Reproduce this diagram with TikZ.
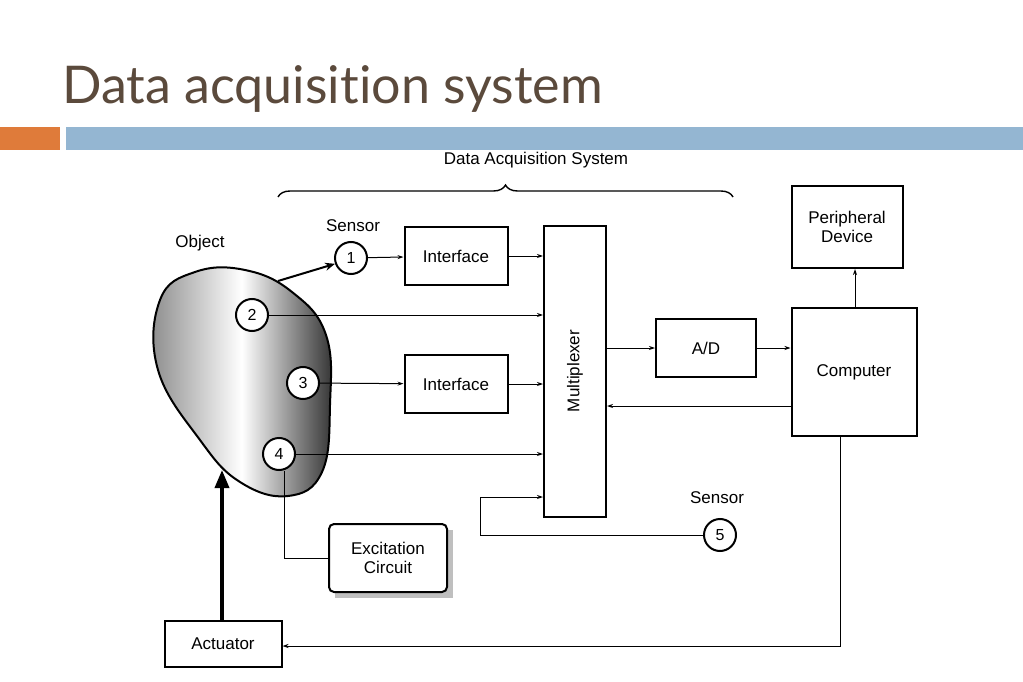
\documentclass[tikz,border=0pt]{standalone}
\usepackage{fontspec}
\setmainfont{Liberation Sans}
\newfontfamily\titlefont[Ligatures={NoCommon}]{Lato}
\usepackage{tikz}
\usetikzlibrary{decorations.pathreplacing,arrows.meta}
\definecolor{titlebrown}{HTML}{5B4A3C}
\definecolor{barorange}{HTML}{DF7B3A}
\definecolor{barblue}{HTML}{94B6D2}
\tikzset{
  blk/.style={draw, line width=2pt, font=\fontsize{17}{19}\selectfont, align=center},
  sens/.style={circle, draw, fill=white, line width=2pt, minimum size=32pt, inner sep=0pt, font=\fontsize{16}{17}\selectfont},
  sig/.style={line width=1pt, -{Stealth[length=6pt,width=4pt]}},
  wire/.style={line width=1pt},
  lbl/.style={font=\fontsize{17}{19}\selectfont}
}
\begin{document}
\begin{tikzpicture}[x=1pt,y=-1pt]
        \useasboundingbox (0,0) rectangle (1023,682);
        \node[anchor=base west, inner sep=0pt, text=titlebrown, font=\titlefont\fontsize{52}{56}\selectfont] at (62,104) {Data acquisition system};
        \fill[barorange] (0,127) rectangle (60,150);
        \fill[barblue] (66,127) rectangle (1023,150);

        % object
        \shade[left color=gray!90, right color=black!80, middle color=white, draw=black, line width=2pt]
            plot[smooth cycle, tension=0.7] coordinates {(160,300) (195,272) (245,270) (292,292) (326,335) (330,405) (322,472) (288,496) (240,482) (200,440) (158,370)};
        \node[lbl] at (200,243) {Object};

        % brace
        \draw[decorate, decoration={brace, amplitude=12pt}, line width=1.4pt] (278,197) -- (733,197);
        \node[lbl] at (536,160) {Data Acquisition System};

        \node[sens] (s1) at (351,258) {1};
        \node[sens] (s2) at (252,315) {2};
        \node[sens] (s3) at (303,383) {3};
        \node[sens] (s4) at (279,454) {4};
        \node[sens] (s5) at (720,535) {5};
        \node[lbl] at (353,226) {Sensor};
        \node[lbl] at (717,498) {Sensor};

        \node[blk, minimum width=103pt, minimum height=58pt] (if1) at (456,256) {Interface};
        \node[blk, minimum width=103pt, minimum height=58pt] (if2) at (456,384) {Interface};
        \node[blk, minimum width=62pt, minimum height=291pt] (mux) at (575,371) {};
        \node[lbl, rotate=90] at (mux) {Multiplexer};
        \node[blk, minimum width=100pt, minimum height=58pt] (ad) at (706,348) {A/D};
        \node[blk, minimum width=125pt, minimum height=128pt] (comp) at (854,372) {Computer};
        \node[blk, minimum width=111pt, minimum height=82pt] (per) at (847,227) {Peripheral\\Device};
        \fill[gray!50] (335,530) rectangle (453,598);
        \node[blk, fill=white, rounded corners=5pt, minimum width=118pt, minimum height=68pt] (exc) at (388,558) {Excitation\\Circuit};
        \node[blk, minimum width=117pt, minimum height=46pt] (act) at (223,644) {Actuator};

        % connections
        \draw[sig] (s1) -- (if1);
        \draw[sig] (if1) -- (if1 -| mux.west);
        \draw[sig] (s2) -- (s2 -| mux.west);
        \draw[sig] (s3) -- (if2);
        \draw[sig] (if2) -- (if2 -| mux.west);
        \draw[sig] (s4) -- (s4 -| mux.west);
        \draw[sig] (ad.west -| mux.east) -- (ad);
        \draw[sig] (ad) -- (ad -| comp.west);
        \draw[sig] (comp.west |- 0,406) -- (mux.east |- 0,406);
        \draw[sig] (comp.north -| 855,0) -- (per.south -| 855,0);
        \draw[sig] (s5) -- (480,535) -- (480,497) -- (mux.west |- 0,497);
        \draw[wire] (s4.south -| 284,0) -- (284,558) -- (exc);
        \draw[sig] (comp.south -| 840,0) -- (840,646) -- (act.east |- 0,646);
        \coordinate (pt) at (278,281);
        \draw[line width=2pt, -{Stealth[length=10pt,width=8pt]}] (pt) -- (s1.200);
        \draw[line width=3.5pt, -{Triangle[length=18pt,width=14pt]}] (act.north -| 222,0) -- (222,470);
    \end{tikzpicture}
\end{document}
